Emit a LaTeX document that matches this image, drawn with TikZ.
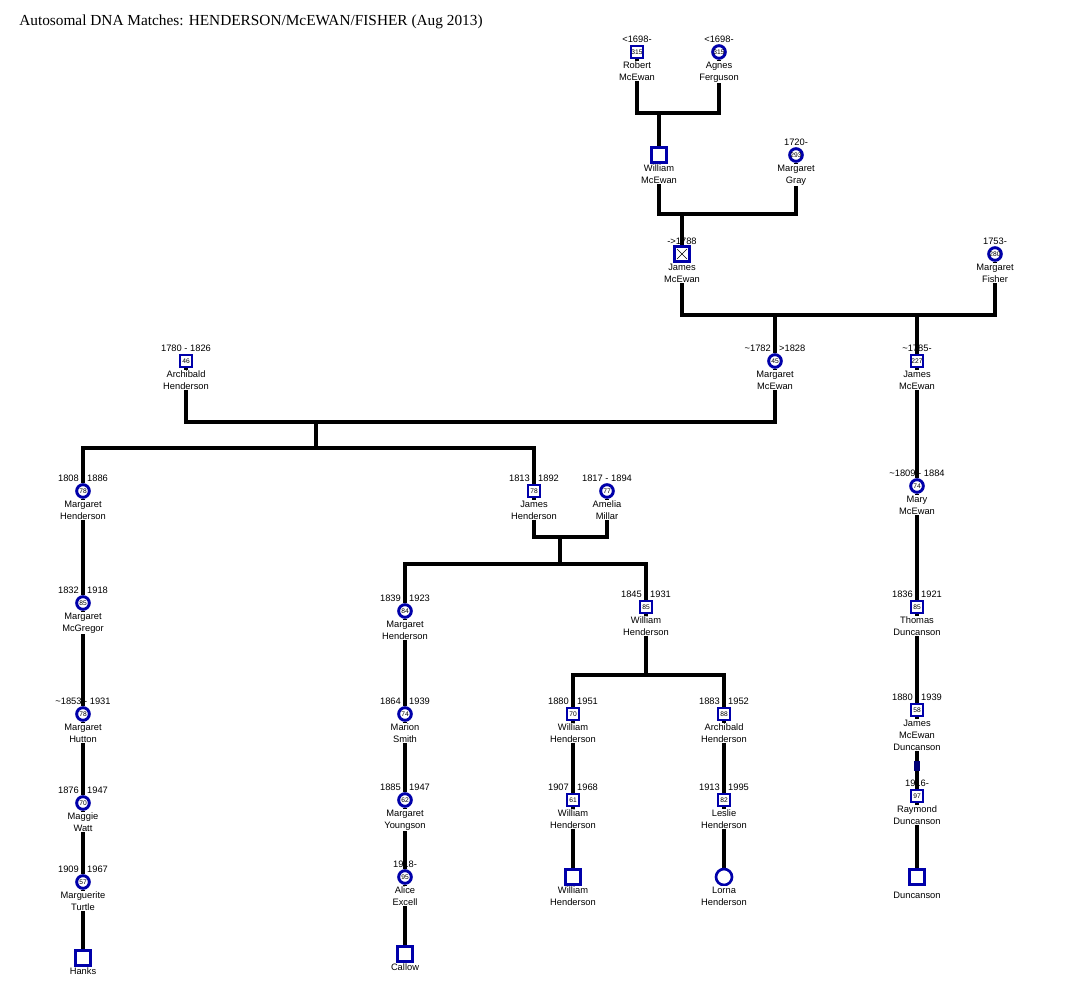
\documentclass[tikz,border=0pt]{standalone}
\usepackage{fontspec}
\setmainfont{Liberation Sans}
\newfontfamily\titlefont{Liberation Serif}
\usetikzlibrary{backgrounds}
\definecolor{icb}{RGB}{0,0,170}
\tikzset{
  x=0.75pt, y=-0.75pt,
  sq/.style={draw=icb, line width=2.2pt, fill=white, minimum size=9pt, inner sep=0pt, font=\fontsize{5}{5}\selectfont},
  ci/.style={draw=icb, line width=2.2pt, fill=white, circle, minimum size=9.5pt, inner sep=0pt, font=\fontsize{5}{5}\selectfont},
  bsq/.style={draw=icb, line width=2pt, fill=white, minimum size=11.5pt, inner sep=0pt},
  bci/.style={draw=icb, line width=2pt, fill=white, circle, minimum size=12pt, inner sep=0pt},
  namelab/.style={anchor=north, align=center, fill=white, inner sep=0.5pt, font=\fontsize{7}{9}\selectfont},
  datelab/.style={anchor=south, inner sep=0pt, font=\fontsize{7}{8}\selectfont},
  tree/.style={line width=2.5pt}
}
\newcommand\pp[7]{%
  \node[#4] (#1) at (#2,#3) {#5};
  \node[namelab] (#1n) at (#2,#3+9) {#7};
  \node[datelab] (#1d) at (#2,#3-9) {#6};
}
\begin{document}
\begin{tikzpicture}
\useasboundingbox (0,0) rectangle (1069,988);
\node[anchor=west, font=\titlefont\fontsize{11.5}{12}\selectfont, inner sep=0pt] (title) at (19,22) {Autosomal DNA Matches: HENDERSON/McEWAN/FISHER (Aug 2013)};
\pp{RM}{637}{52}{sq}{315}{<1698-}{Robert\\McEwan}
\pp{AF}{719}{52}{ci}{315}{<1698-}{Agnes\\Ferguson}
\pp{WM}{659}{155}{bsq}{}{}{William\\McEwan}
\pp{MG}{796}{155}{ci}{293}{1720-}{Margaret\\Gray}
\pp{JM}{682}{254}{bsq}{\tikz[x=1pt,y=1pt]\draw[line width=0.4pt](0,0)--(7.5,7.5)(0,7.5)--(7.5,0);}{->1788}{James\\McEwan}
\pp{MF}{995}{254}{ci}{280}{1753-}{Margaret\\Fisher}
\pp{AH}{186}{361}{sq}{46}{1780 - 1826}{Archibald\\Henderson}
\pp{MMc}{775}{361}{ci}{45}{\textasciitilde1782 - >1828}{Margaret\\McEwan}
\pp{JMc}{917}{361}{sq}{227}{\textasciitilde1785-}{James\\McEwan}
\pp{MHa}{83}{491}{ci}{78}{1808 - 1886}{Margaret\\Henderson}
\pp{JH}{534}{491}{sq}{78}{1813 - 1892}{James\\Henderson}
\pp{AM}{607}{491}{ci}{77}{1817 - 1894}{Amelia\\Millar}
\pp{MyM}{917}{486}{ci}{74}{\textasciitilde1809 - 1884}{Mary\\McEwan}
\pp{MMG}{83}{603}{ci}{85}{1832 - 1918}{Margaret\\McGregor}
\pp{MHb}{405}{611}{ci}{84}{1839 - 1923}{Margaret\\Henderson}
\pp{WHa}{646}{607}{sq}{85}{1845 - 1931}{William\\Henderson}
\pp{TD}{917}{607}{sq}{85}{1836 - 1921}{Thomas\\Duncanson}
\pp{MHu}{83}{714}{ci}{78}{\textasciitilde1853 - 1931}{Margaret\\Hutton}
\pp{MS}{405}{714}{ci}{74}{1864 - 1939}{Marion\\Smith}
\pp{WHb}{573}{714}{sq}{70}{1880 - 1951}{William\\Henderson}
\pp{ArH}{724}{714}{sq}{88}{1883 - 1952}{Archibald\\Henderson}
\pp{JMD}{917}{710}{sq}{58}{1880 - 1939}{James\\McEwan\\Duncanson}
\pp{MW}{83}{803}{ci}{70}{1876 - 1947}{Maggie\\Watt}
\pp{MY}{405}{800}{ci}{62}{1885 - 1947}{Margaret\\Youngson}
\pp{WHc}{573}{800}{sq}{61}{1907 - 1968}{William\\Henderson}
\pp{LH}{724}{800}{sq}{82}{1913 - 1995}{Leslie\\Henderson}
\pp{RD}{917}{796}{sq}{97}{1916-}{Raymond\\Duncanson}
\pp{MT}{83}{882}{ci}{57}{1909 - 1967}{Marguerite\\Turtle}
\pp{AE}{405}{877}{ci}{95}{1918-}{Alice\\Excell}
\pp{WHd}{573}{877}{bsq}{}{}{William\\Henderson}
\pp{LoH}{724}{877}{bci}{}{}{Lorna\\Henderson}
\pp{Dun}{917}{877}{bsq}{}{}{\\Duncanson}
\pp{Han}{83}{958}{bsq}{}{}{Hanks}
\pp{Cal}{405}{954}{bsq}{}{}{Callow}
\node[fill=icb!70!black, minimum width=4.5pt, minimum height=8pt, inner sep=0pt] (mk) at (917,766) {};
\begin{scope}[on background layer]
\coordinate (j1) at (659,113);
\coordinate (j2) at (682,214);
\coordinate (j3) at (775,315);
\coordinate (j4) at (917,315);
\coordinate (j5) at (316,422);
\coordinate (j6) at (316,448);
\coordinate (j7) at (560,537);
\coordinate (j8) at (560,564);
\coordinate (j9) at (646,675);
\draw[tree] (RM) |- (j1) -| (AF); \draw[tree] (j1) -- (WM);
\draw[tree] (WM) |- (j2) -| (MG); \draw[tree] (j2) -- (JM);
\draw[tree] (JM) |- (j3) -| (MF); \draw[tree] (j3) -- (MMc); \draw[tree] (j4) -- (JMc);
\draw[tree] (AH) |- (j5) -| (MMc); \draw[tree] (j5) -- (j6);
\draw[tree] (MHa) |- (j6) -| (JH);
\draw[tree] (JH) |- (j7) -| (AM); \draw[tree] (j7) -- (j8);
\draw[tree] (MHb) |- (j8) -| (WHa);
\draw[tree] (WHb) |- (j9) -| (ArH); \draw[tree] (j9) -- (WHa);
\draw[tree] (MHa) -- (MMG) -- (MHu) -- (MW) -- (MT) -- (Han);
\draw[tree] (MHb) -- (MS) -- (MY) -- (AE) -- (Cal);
\draw[tree] (WHb) -- (WHc) -- (WHd);
\draw[tree] (ArH) -- (LH) -- (LoH);
\draw[tree] (JMc) -- (MyM) -- (TD) -- (JMD) -- (RD) -- (Dun);
\end{scope}
\end{tikzpicture}
\end{document}
